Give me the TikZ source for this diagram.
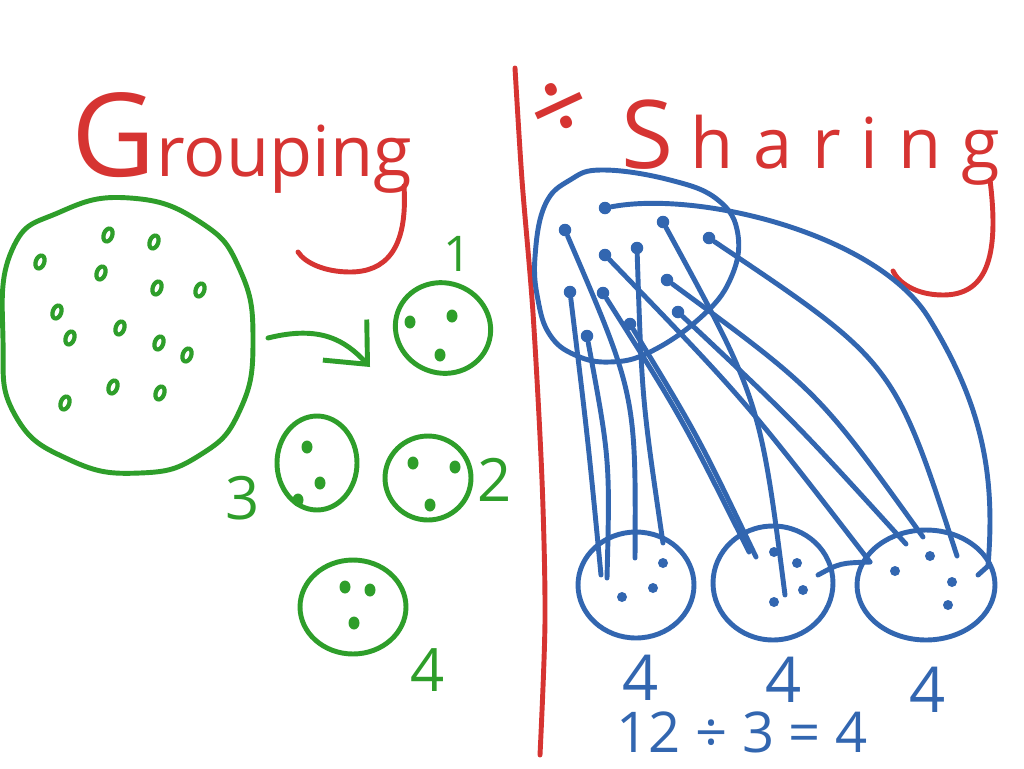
\documentclass[tikz,border=0pt]{standalone}
\usepackage{fontspec}
\setmainfont{Open Sans}
\usetikzlibrary{arrows.meta,shapes.geometric}
\definecolor{inkred}{RGB}{214,52,50}
\definecolor{inkgreen}{RGB}{46,158,42}
\definecolor{inkblue}{RGB}{50,102,176}
\begin{document}
\begin{tikzpicture}[x=0.02cm,y=-0.02cm,line cap=round,line join=round,
  redink/.style={inkred,line width=2.8pt},
  greenink/.style={inkgreen,line width=2.8pt},
  wire/.style={inkblue,line width=2.8pt},
  title/.style={inkred,inner sep=0pt,font=\fontsize{40}{48}\selectfont},
  gnum/.style={inkgreen,inner sep=0pt,font=\fontsize{34}{40}\selectfont},
  bnum/.style={inkblue,inner sep=0pt,font=\fontsize{36}{44}\selectfont},
  gring/.style={draw=inkgreen,line width=2.8pt,ellipse,inner sep=0pt},
  gmark/.style={draw=inkgreen,line width=2.4pt,ellipse,rotate=-20,minimum width=0.17cm,minimum height=0.27cm,inner sep=0pt},
  gdot/.style={fill=inkgreen,ellipse,minimum width=0.22cm,minimum height=0.26cm,inner sep=0pt},
  bring/.style={draw=inkblue,line width=2.8pt,ellipse,inner sep=0pt},
  bdot/.style={fill=inkblue,circle,minimum size=0.25cm,inner sep=0pt},
]
\fill[white] (0,0) rectangle (1024,768);
\useasboundingbox (0,0) rectangle (1024,768);
%%
\node[title,anchor=base east] (grouping) at (412,176) {{\fontsize{66}{66}\selectfont G}rouping};
\draw[redink] (404,186) .. controls (408,250) and (385,272) .. (350,272) .. controls (325,272) and (305,263) .. (298,252);
\node[inkred,inner sep=0pt,rotate=25,font=\fontsize{60}{60}\selectfont] (divide) at (562,112) {÷};
\node[title,anchor=base east] (sharing) at (1000,168) {{\fontsize{54}{54}\selectfont S}\kern 10pt\addfontfeature{LetterSpace=28}haring};
\draw[redink] (990,180) .. controls (1000,260) and (985,295) .. (943,295) .. controls (915,295) and (898,282) .. (893,271);
\draw[redink] plot[smooth] coordinates {(515,68) (522,180) (533,313) (542,480) (545,620) (540,755)};
%
\draw[greenink] plot[smooth cycle,tension=0.8] coordinates {(12,250) (60,212) (130,198) (200,222) (240,270) (253,340) (240,410) (200,455) (140,473) (70,460) (15,415) (3,340)};
\foreach \x/\y in {108/235,154/242,40/262,101/273,157/288,200/290,57/312,70/338,120/328,159/343,187/355,65/403,113/387,160/393}
  \node[gmark] (m\x) at (\x,\y) {};
\coordinate (arrS) at (268,338);
\coordinate (arrE) at (370,367);
\draw[greenink,-{Straight Barb[length=19pt,width=34pt]}] (arrS) .. controls (320,325) and (345,340) .. (arrE);
\node[gring,rotate=-20,minimum width=1.92cm,minimum height=1.8cm] (group1) at (443,328) {};
\node[gring,minimum width=1.72cm,minimum height=1.68cm] (group2) at (428,478) {};
\node[gring,minimum width=1.6cm,minimum height=1.88cm] (group3) at (317,463) {};
\node[gring,minimum width=2.12cm,minimum height=1.88cm] (group4) at (353,607) {};
\foreach \x/\y [count=\i] in {410/322,452/316,440/355,413/463,455/467,430/505,307/447,320/483,298/500,345/587,370/590,354/623}
  \node[gdot] (d\i) at (\x,\y) {};
\node[gnum,font=\fontsize{28}{32}\selectfont] (lab1) at (458,254) {1};
\node[gnum] (lab2) at (495,480) {2};
\node[gnum] (lab3) at (243,498) {3};
\node[gnum] (lab4) at (428,670) {4};
%
\draw[wire] plot[smooth cycle,tension=0.7] coordinates {(603,170) (670,180) (718,200) (738,235) (730,280) (700,318) (650,352) (610,362) (575,355) (550,335) (538,300) (535,257) (545,205) (570,180)};
\node[bring,minimum width=2.32cm,minimum height=2.12cm] (share1) at (636,585) {};
\node[bring,minimum width=2.4cm,minimum height=2.28cm] (share2) at (773,583) {};
\node[bring,minimum width=2.76cm,minimum height=2.2cm] (share3) at (926,585) {};
\foreach \n/\x/\y in {a/565/230,b/605/208,c/663/222,d/605/255,e/637/248,f/709/238,g/570/292,h/603/293,i/667/280,j/630/324,k/678/312,l/587/336}
  \node[bdot] (t\n) at (\x,\y) {};
\foreach \n/\x/\y in {a/635/558,g/601/575,l/607/578,e/663/543,h/749/552,j/756/557,c/785/595,d/870/562,k/906/544,i/923/537,f/957/556,b/988/566}
  \coordinate (e\n) at (\x,\y);
\foreach \x/\y [count=\i] in {622/597,653/588,663/563,774/552,797/563,803/590,774/602,895/571,930/556,952/582,948/605}
  \node[bdot,minimum size=0.2cm] (s\i) at (\x,\y) {};
\coordinate (hook2) at (818,575);
\coordinate (hookb) at (978,575);
\draw[wire] (ta) .. controls (636,395) .. (ea);
\draw[wire] (tg) .. controls (588,440) .. (eg);
\draw[wire] (tl) .. controls (610,460) .. (el);
\draw[wire] (te) .. controls (642,400) .. (ee);
\draw[wire] (th) .. controls (682,418) .. (eh);
\draw[wire] (tj) .. controls (698,436) .. (ej);
\draw[wire] (tc) .. controls (760,400) .. (ec);
\draw[wire] (td) .. controls (745,400) .. (ed);
\draw[wire] (tk) .. controls (795,422) .. (ek);
\draw[wire] (ti) .. controls (818,391) .. (ei);
\draw[wire] (tf) .. controls (894,362) .. (ef);
\draw[wire] (tb) .. controls (700,190) and (880,235) .. (930,320) .. controls (985,410) and (995,480) .. (eb) -- (hookb);
\draw[wire] (hook2) .. controls (840,563) .. (ed);
%
\node[bnum] (four1) at (641,678) {4};
\node[bnum] (four2) at (784,680) {4};
\node[bnum] (four3) at (928,690) {4};
\node[bnum,anchor=base,font=\fontsize{32}{38}\selectfont] (equation) at (742,752) {12 ÷ 3 = 4};
\end{tikzpicture}
\end{document}
